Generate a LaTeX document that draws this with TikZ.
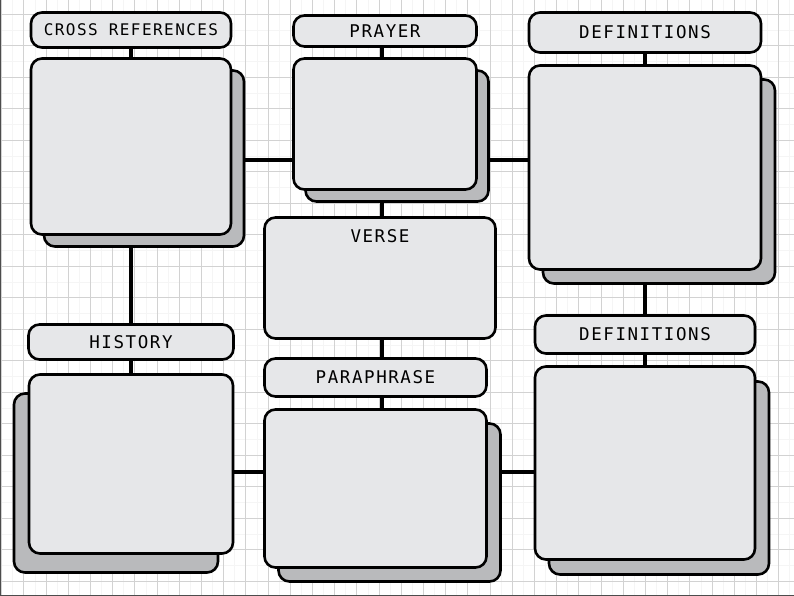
\documentclass[tikz,border=0pt]{standalone}
\usepackage{fontspec}
\usepackage{tikz}
\usetikzlibrary{shadows,backgrounds}
\newfontfamily\labelfont[LetterSpace=9]{DejaVu Sans Mono}
\definecolor{boxgray}{HTML}{E6E7E9}
\definecolor{backgray}{HTML}{B9BABC}

\begin{document}
\begin{tikzpicture}[x=1pt,y=-1pt,
    panel/.style={draw=black, line width=2.6pt, fill=boxgray, rounded corners=11pt, inner sep=0pt},
    heading/.style={panel, font=\labelfont\fontsize{17.5}{18}\selectfont},
    backing/.style 2 args={general shadow={fill=backgray, draw=black, line width=2.6pt,
        shadow xshift=#1pt, shadow yshift=#2pt}},
    link/.style={line width=3.3pt},
    gridminor/.style={gray!8, line width=0.4pt},
    gridmajor/.style={gray!35, line width=0.5pt}]
        \useasboundingbox (0,0) rectangle (794,596);
        \node[heading, minimum width=200pt, minimum height=35pt,
            font=\labelfont\fontsize{16}{17}\selectfont] (crossL) at (131,30) {CROSS REFERENCES};
        \node[panel, backing={13}{-12}, minimum width=200pt, minimum height=176pt] (cross) at (131,146.5) {};
        \node[heading, minimum width=183pt, minimum height=31pt] (prayerL) at (385,31) {PRAYER};
        \node[panel, backing={12}{-12}, minimum width=183pt, minimum height=131pt] (prayer) at (385,124) {};
        \node[heading, minimum width=232pt, minimum height=40pt] (defL) at (645,32.5) {DEFINITIONS};
        \node[panel, backing={14}{-14}, minimum width=232pt, minimum height=204pt] (def) at (645,167.5) {};
        \node[panel, minimum width=231pt, minimum height=121pt,
            label={[font=\labelfont\fontsize{17.5}{18}\selectfont, anchor=north, yshift=-10pt]north:VERSE}] (verse) at (380,278) {};
        \node[heading, minimum width=222pt, minimum height=38pt] (paraL) at (375.5,377.5) {PARAPHRASE};
        \node[panel, backing={14}{-14}, minimum width=222pt, minimum height=158pt] (para) at (375.5,488.5) {};
        \node[heading, minimum width=205pt, minimum height=35pt] (histL) at (131,342) {HISTORY};
        \node[panel, backing={-15}{-19}, minimum width=204pt, minimum height=179pt] (hist) at (131,464) {};
        \node[heading, minimum width=220pt, minimum height=38pt] (defbL) at (645,334.5) {DEFINITIONS};
        \node[panel, backing={14}{-15}, minimum width=220pt, minimum height=193pt] (defb) at (645,463) {};
        \coordinate (midx) at (382,0);
        \coordinate (topy) at (0,160);
        \coordinate (lowy) at (0,472);
        \begin{scope}[on background layer]
            \fill[white] (0,0) rectangle (794,596);
            \foreach \gx in {12.6,34.8,...,794} \draw[gridminor] (\gx,0) -- (\gx,596);
            \foreach \gy in {-1.75,29.75,...,596} \draw[gridminor] (0,\gy) -- (794,\gy);
            \foreach \gx in {1.5,23.7,...,794} \draw[gridmajor] (\gx,0) -- (\gx,596);
            \foreach \gy in {14,45.5,...,596} \draw[gridmajor] (0,\gy) -- (794,\gy);
            \draw[gray!60!black, line width=1pt] (0.5,0) -- (0.5,595.5) -- (794,595.5);
            \draw[link] (crossL) -- (hist);
            \draw[link] (prayerL -| midx) -- (para -| midx);
            \draw[link] (defL) -- (defb);
            \draw[link] (cross |- topy) -- (def |- topy);
            \draw[link] (hist |- lowy) -- (defb |- lowy);
        \end{scope}
      \end{tikzpicture}
\end{document}
